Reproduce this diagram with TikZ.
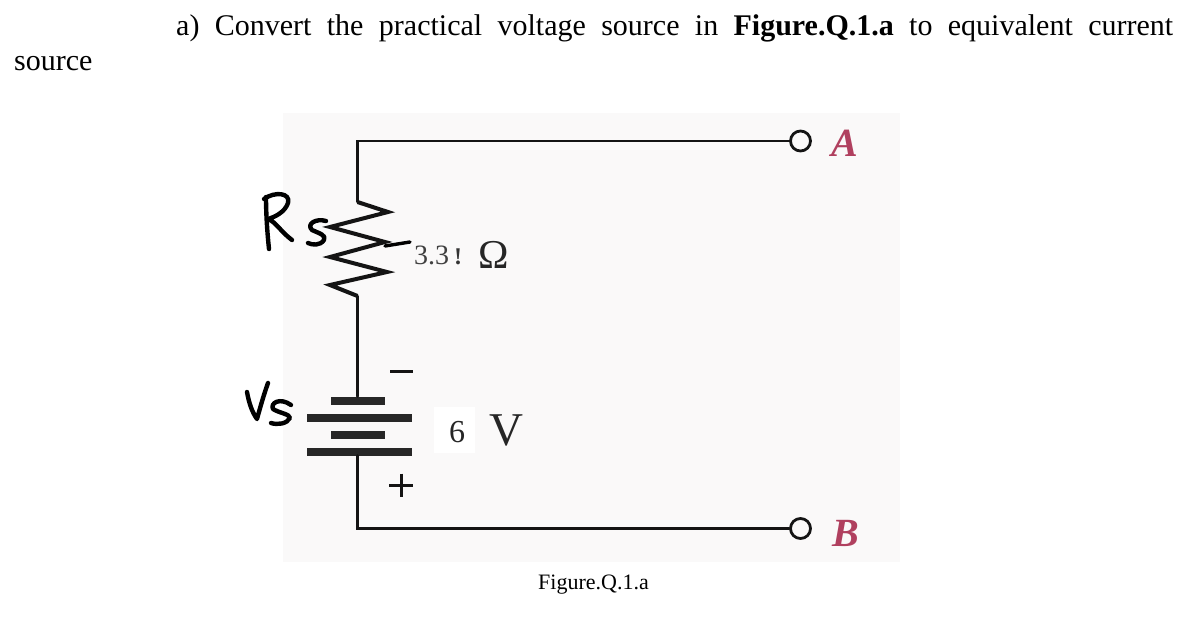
\documentclass[tikz,border=0pt]{standalone}
\usepackage{fontspec}
\setmainfont{Liberation Serif}
\definecolor{bgpaper}{HTML}{FAF9F9}
\definecolor{termred}{HTML}{B0405F}
\definecolor{inkc}{HTML}{141414}
\tikzset{
  x=1pt,y=-1pt,
  wire/.style={draw=inkc,line width=2.8pt,line cap=round,line join=miter},
  zigzag/.style={draw=inkc,line width=4pt,line cap=butt,line join=miter},
  plate/.style={draw=none,fill=inkc!92!white,minimum height=8pt,inner sep=0pt,outer sep=0pt},
  longplate/.style={plate,minimum width=105pt},
  shortplate/.style={plate,minimum width=54pt},
  terminal/.style={circle,draw=inkc,line width=2.8pt,fill=bgpaper,minimum size=20pt,inner sep=0pt},
  termlabel/.style={font=\fontsize{40}{40}\selectfont\itshape\bfseries,text=termred,inner sep=0pt},
  bodytext/.style={font=\fontsize{30}{30}\selectfont,inner sep=0pt,anchor=base west,text=black},
  hand/.style={draw=black,line width=4.4pt,line cap=round,line join=round},
  valtext/.style={font=\fontsize{47}{47}\selectfont,inner sep=0pt,anchor=base west,text=black!85}
}
\begin{document}
\begin{tikzpicture}
\useasboundingbox (0,0) rectangle (1186,624);
\fill[white] (0,0) rectangle (1186,624);
\fill[bgpaper] (283,113) rectangle (900,562);

\node[bodytext] (line1) at (176,35) {\makebox[997pt][s]{a) Convert the practical voltage source in \textbf{Figure.Q.1.a} to equivalent current}};
\node[bodytext] (line2) at (14,70) {source};

% terminals and corners
\node[terminal] (A) at (800.5,141) {};
\node[terminal] (B) at (800.5,528.5) {};
\coordinate (tl) at (357.5,141);
\coordinate (bl) at (357.5,528.5);
\coordinate (rtop) at (357.5,202);
\coordinate (rbot) at (357.5,296);

% battery
\node[shortplate] (p1) at (358,400.5) {};
\node[longplate] (p2) at (359.5,417.5) {};
\node[shortplate] (p3) at (358,435) {};
\node[longplate] (p4) at (359.5,451.5) {};

\draw[wire] (A) -- (tl) -- (rtop);
\draw[zigzag] (rtop) -- (388,212) -- (330,227) -- (385,242) -- (330,257) -- (387,272) -- (330,285) -- (rbot);
\draw[wire] (rbot) -- (p1.north -| rbot);
\draw[wire] (p4.south -| bl) -- (bl) -- (B);

% labels
\node[termlabel,anchor=base] (la) at (845,156) {A};
\node[termlabel,anchor=base] (lb) at (846,546) {B};
\node[font=\fontsize{28}{28}\selectfont,inner sep=0pt,anchor=base west,text=black!75] (r1) at (414,264) {3.3};
\node[font=\fontsize{24}{24}\selectfont\bfseries,inner sep=0pt,anchor=base west,text=black!80] (r2) at (454,264) {!};
\node[font=\fontsize{41}{41}\selectfont,inner sep=0pt,anchor=base west,text=black!85] (r3) at (478,268) {Ω};
\fill[white] (434,407) rectangle (475,453);
\node[font=\fontsize{32}{32}\selectfont,inner sep=0pt,anchor=base west,text=black!85] (six) at (449,442) {6};
\node[valtext] (volt) at (489,445) {V};
\draw[draw=inkc,line width=3pt] (390,371) -- (413,371);
\draw[draw=inkc,line width=3pt] (389,485) -- (413,485) (401,473.5) -- (401,496.5);
\node[font=\fontsize{22}{22}\selectfont,inner sep=0pt,anchor=base west] (cap) at (538,589) {Figure.Q.1.a};

% handwriting
\draw[hand,line width=3.4pt] (385,246) -- (410,242);
\draw[hand] (269,249) .. controls (267,230) and (266,212) .. (266,197);
\draw[hand] (264,199) .. controls (275,191) and (291,193) .. (288,203) .. controls (285,212) and (275,217) .. (268,219) .. controls (276,222) and (281,232) .. (292,240);
\draw[hand] (326,221) .. controls (316,218) and (306,224) .. (312,230) .. controls (318,233) and (327,235) .. (324,240) .. controls (320,246) and (312,245) .. (308,243);
\draw[hand] (247,392) .. controls (249,403) and (252,412) .. (257,419) .. controls (260,408) and (264,394) .. (268,383);
\draw[hand] (291,405) .. controls (280,397) and (270,403) .. (273,409) .. controls (279,413) and (290,414) .. (290,418) .. controls (287,424) and (277,425) .. (271,423);
\end{tikzpicture}
\end{document}
